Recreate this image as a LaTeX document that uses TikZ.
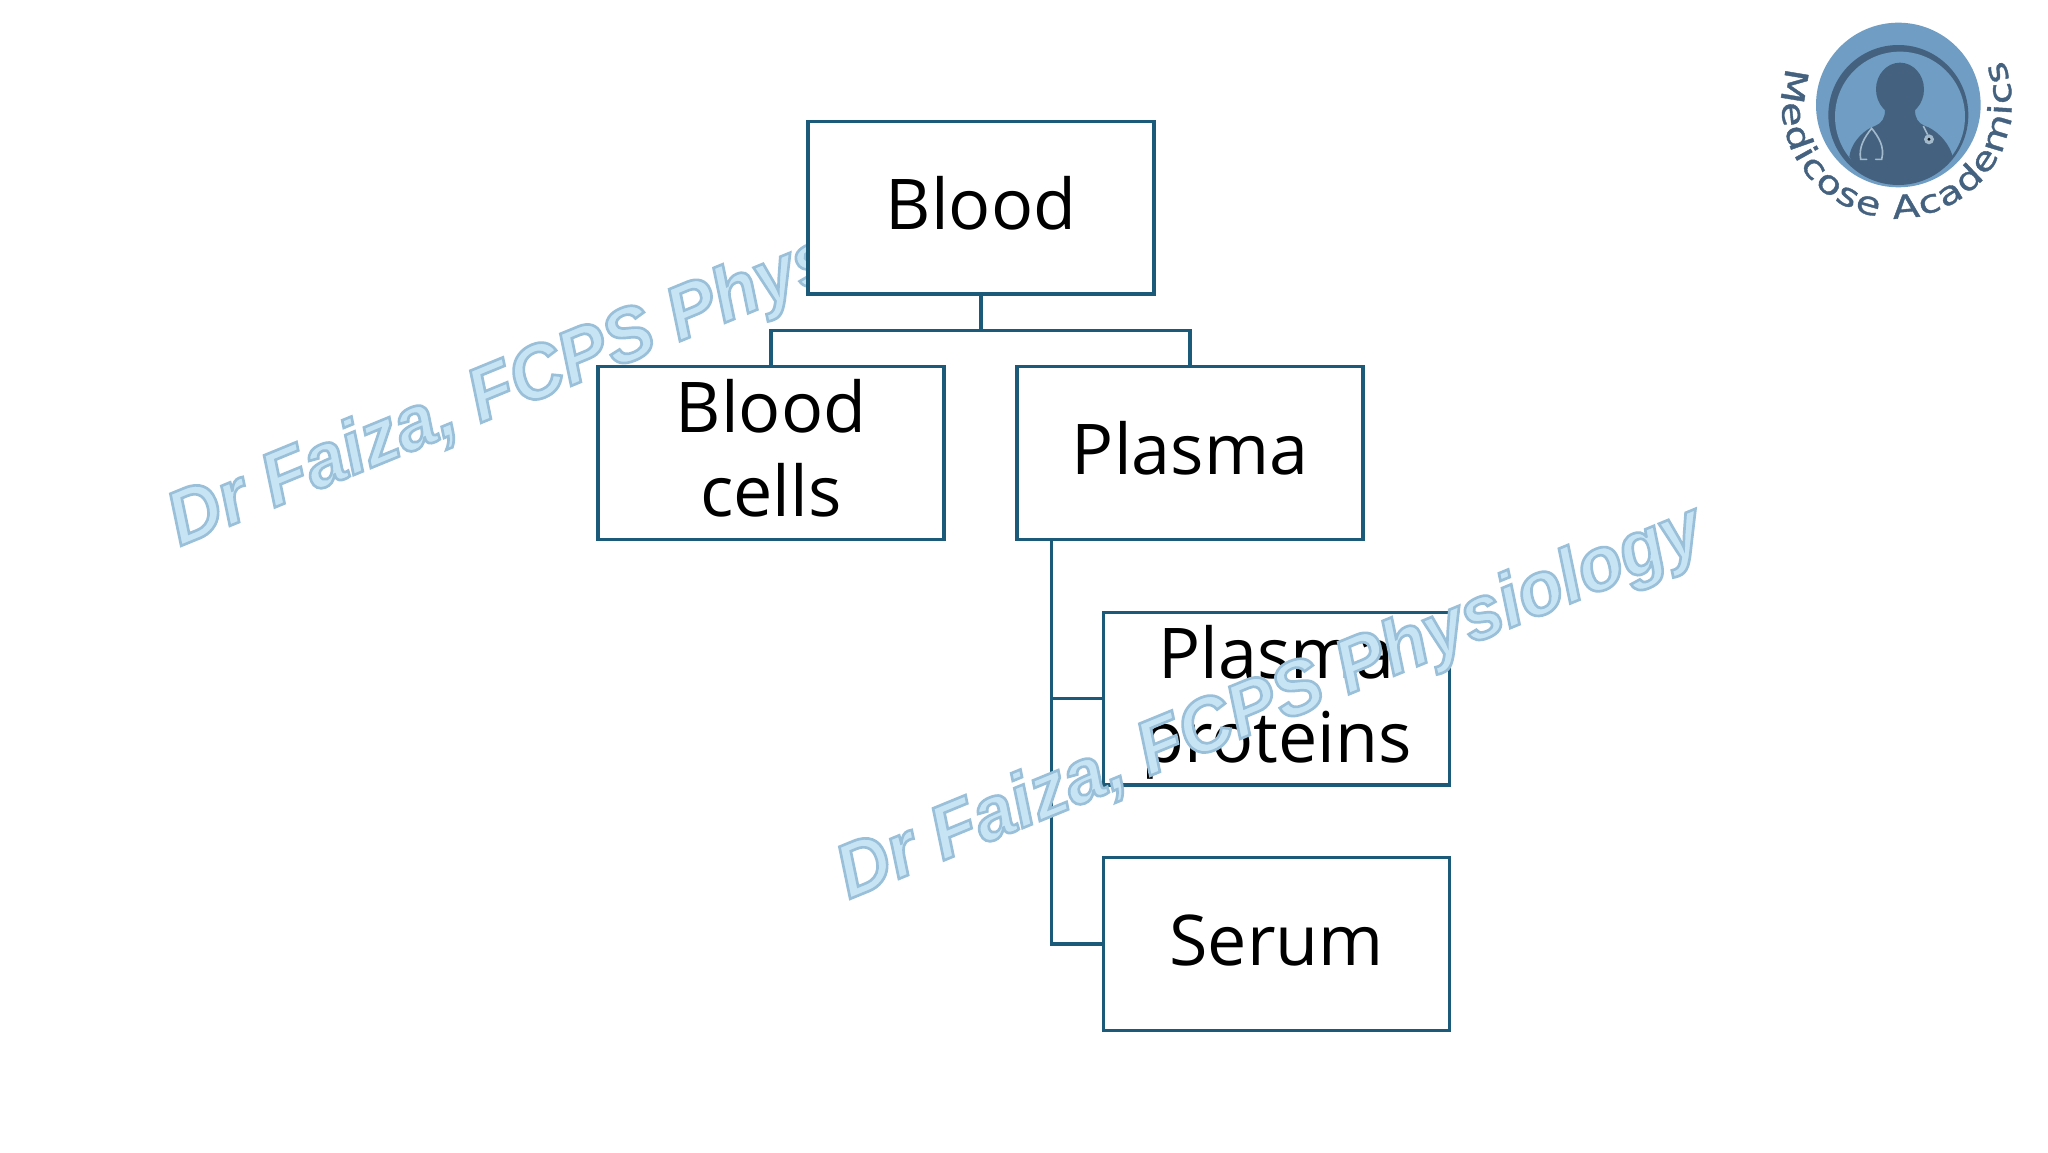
\documentclass[tikz,border=0pt]{standalone}
\usepackage{fontspec}
\usetikzlibrary{decorations.text}
\setmainfont{Open Sans}
\newfontfamily\wmfont[FakeBold=3.5,FakeStretch=0.96]{Liberation Sans Bold Italic}
\newfontfamily\logofont[FakeStretch=1.25,FakeBold=1.2]{DejaVu Sans}
\definecolor{boxline}{HTML}{1B5A78}
\definecolor{wmfill}{HTML}{C6E4F3}
\definecolor{logolight}{HTML}{709DC3}
\definecolor{logodark}{HTML}{44627F}
\definecolor{logothin}{HTML}{A3BACD}
\tikzset{
  orgbox/.style={draw=boxline,line width=3.2pt,fill=white,minimum width=346pt,minimum height=172.5pt,inner sep=0pt,font=\fontsize{70}{84}\selectfont,text=black},
  link/.style={draw=boxline,line width=3.2pt,line join=miter},
  watermark/.style={rotate=22.3,inner sep=0pt,font=\fontsize{76}{84}\wmfont}
}
\newcommand{\wmtext}{{\color{wmfill}\special{pdf:code 0.60 0.75 0.85 RG}Dr Faiza, FCPS Physiology}}
\newcommand{\lifted}[1]{\raisebox{-5pt}[\height][\depth]{\begin{tabular}{@{}c@{}}#1\end{tabular}}}
\begin{document}
\begin{tikzpicture}[x=1pt,y=-1pt]
\useasboundingbox (0,0) rectangle (2048,1152);
\fill[white] (0,0) rectangle (2048,1152);
\node[watermark] (wma) at (602,352) {\wmtext};
\node[orgbox] (blood) at (981,207.7) {\lifted{Blood}};
\node[orgbox] (cells) at (771,453) {\lifted{Blood\\cells}};
\node[orgbox] (plasma) at (1190,453) {\lifted{Plasma}};
\node[orgbox] (proteins) at (1276.6,698.8) {\lifted{Plasma\\proteins}};
\node[orgbox] (serum) at (1276.6,944) {\lifted{Serum}};
\coordinate (fork) at (981,330.5);
\coordinate (trunk) at (1051.5,539);
\draw[link] (blood.south) -- (fork);
\draw[link] (fork) -| (cells.north);
\draw[link] (fork) -| (plasma.north);
\draw[link] (trunk) |- (proteins.west);
\draw[link] (trunk) |- (serum.west);
\node[watermark] (wmb) at (1271,705) {\wmtext};
\begin{scope}[xshift=1760pt,x=0.3333pt,y=-0.3333pt]
  \fill[logolight] (415,315) circle[radius=247];
  \fill[logodark] (415,345) circle[radius=210];
  \fill[logolight] (420,350) circle[radius=195];
  \fill[logodark] (420,268) ellipse[x radius=72,y radius=80];
  \fill[logodark] (268,470) .. controls (275,420) and (320,385) .. (345,378) .. controls (365,370) and (375,355) .. (375,330) -- (465,330) .. controls (465,355) and (475,370) .. (495,378) .. controls (520,385) and (565,420) .. (578,470) .. controls (540,530) and (470,553) .. (415,553) .. controls (360,553) and (300,530) .. (268,470) -- cycle;
  \draw[logothin,line width=1.6pt,line cap=round] (320,478) -- (302,478) .. controls (295,440) and (315,410) .. (335,385) .. controls (355,410) and (375,440) .. (365,478) -- (347,478);
  \draw[logothin,line width=1.6pt] (490,378) -- (503,404);
  \fill[logothin] (507,418) circle[radius=15];
  \fill[black!80!logodark] (507,418) circle[radius=5];
  \path[postaction={decorate,decoration={text along path,text align={fit to path},text={|\fontsize{32}{32}\logofont\color{logodark}|Medicose Academics}}}]
    (82,203) arc[start angle=-162,end angle=-382,radius=345];
\end{scope}
\end{tikzpicture}
\end{document}
